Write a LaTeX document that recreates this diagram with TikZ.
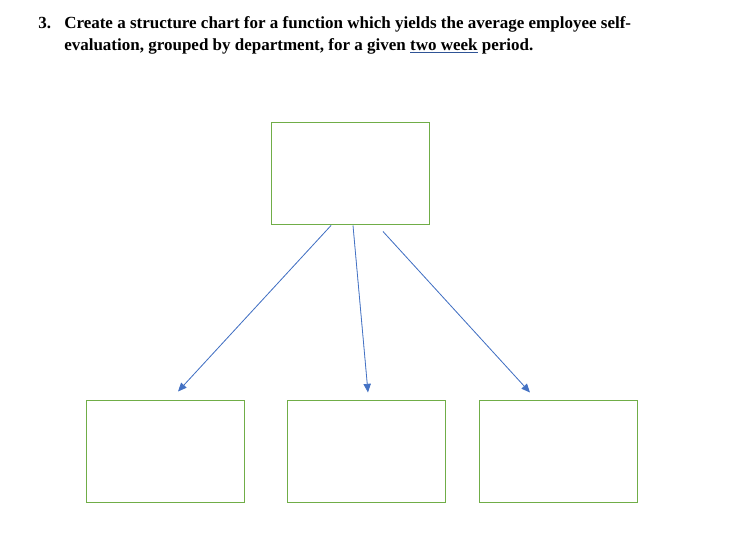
\documentclass[tikz,border=0pt]{standalone}
\usepackage{fontspec}
\setmainfont{Liberation Serif}
\usepackage{xcolor}
\usepackage{tikz}
\usetikzlibrary{calc,arrows.meta}
\definecolor{boxgreen}{HTML}{70AD47}
\definecolor{arrowblue}{HTML}{4472C4}
\definecolor{linkblue}{HTML}{2F5496}
\tikzset{>={Triangle[length=6.5pt,width=5.5pt]}}
\tikzset{
  chartbox/.style={draw=boxgreen, line width=0.75pt, minimum width=118.5pt, minimum height=76.5pt, inner sep=0pt},
  callarrow/.style={->, draw=arrowblue, fill=arrowblue, line width=0.6pt}
}

\begin{document}
\begin{tikzpicture}[x=0.75pt, y=-0.75pt, every node/.style={font=\fontsize{12.75}{16.5}\selectfont\bfseries}]

    % Background / frame
    \useasboundingbox (0,0) rectangle (742,552);
    \fill[white] (0,0) rectangle (742,552);

    % Question text
    \node[anchor=base west, inner sep=0pt] (num) at (38,29) {3.};
    \node[anchor=north west, inner sep=0pt, align=left] (question) at (64,16.5)
        {Create a structure chart for a function which yields the average employee self-\\
         evaluation, grouped by department, for a given {\color{linkblue}\underline{{\color{black}two week}}} period.};

    % Top box
    \node[chartbox] (main) at (350,174) {};

    % Bottom boxes
    \node[chartbox] (left) at (165,451) {};
    \node[chartbox] (middle) at (366,451) {};
    \node[chartbox] (right) at (558,451) {};

    % Calls
    \draw[callarrow] ($(main.south)+(-19,0)$) -- ($(left.north)+(13,-8)$);
    \draw[callarrow] ($(main.south)+(3,0)$) -- ($(middle.north)+(2,-7)$);
    \draw[callarrow] ($(main.south)+(33,6)$) -- ($(right.north)+(-28,-7)$);

\end{tikzpicture}
\end{document}
